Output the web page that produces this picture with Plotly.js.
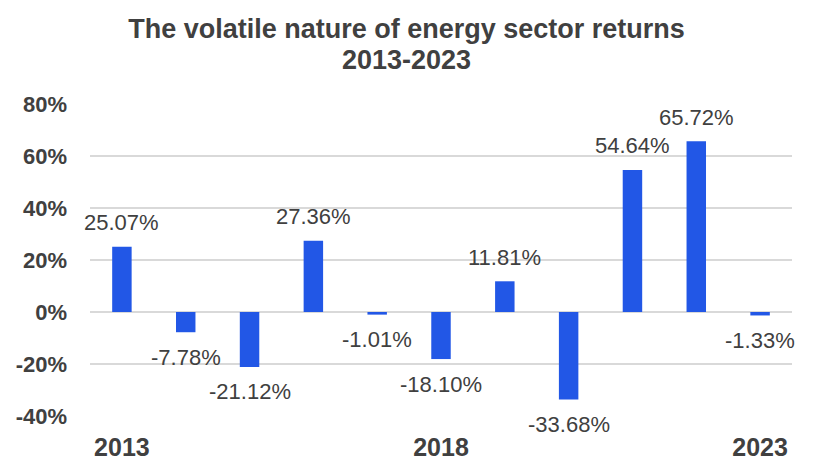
<!DOCTYPE html>
<html>
<head>
<meta charset="utf-8">
<script src="https://cdn.plot.ly/plotly-3.0.1.min.js"></script>
<style>html,body{margin:0;padding:0;background:#fff;}#chart{width:840px;height:472px;}</style>
</head>
<body>
<div id="chart"></div>
<script>
const years = ['2013','2014','2015','2016','2017','2018','2019','2020','2021','2022','2023'];
const returns = [25.07, -7.78, -21.12, 27.36, -1.01, -18.10, 11.81, -33.68, 54.64, 65.72, -1.33];
const xTickVals = ['2013','2018','2023'];
const yTickVals = [-40, -20, 0, 20, 40, 60, 80];
const yTickText = ['-40%','-20%','0%','20%','40%','60%','80%'];
const titleLine1 = 'The volatile nature of energy sector returns';
const titleLine2 = '2013-2023';

const textColor = '#404040';
const fam = 'Liberation Sans, Arial, sans-serif';
const trace = {
  type: 'bar',
  x: years,
  y: returns,
  marker: {color: '#2257E6'},
  hoverinfo: 'none'
};
// data labels: positioned at each category's index on the category axis
const labelAnns = years.map((yr, i) => ({
  x: i, y: returns[i], xref: 'x', yref: 'y',
  text: returns[i].toFixed(2) + '%',
  showarrow: false,
  xanchor: 'center', yanchor: 'middle',
  yshift: returns[i] >= 0 ? 24 : -25,
  font: {family: fam, size: 22, color: textColor}
}));
const layout = {
  width: 840, height: 472,
  margin: {l: 90, r: 48, t: 104, b: 56},
  paper_bgcolor: '#fff', plot_bgcolor: '#fff',
  bargap: 0.695,
  showlegend: false,
  title: {
    text: titleLine1,
    x: 406.5 / 840, xanchor: 'center',
    y: 1 - 29/472, yref: 'container', yanchor: 'middle',
    font: {family: fam, size: 27, color: textColor, weight: 'bold'}
  },
  annotations: [{
    text: titleLine2, xref: 'paper', yref: 'paper',
    x: (406.5 - 90) / 702, xanchor: 'center', y: (416 - 60) / 312, yanchor: 'middle',
    showarrow: false,
    font: {family: fam, size: 27, color: textColor, weight: 'bold'}
  }].concat(labelAnns),
  xaxis: {
    type: 'category',
    categoryorder: 'array', categoryarray: years,
    range: [-0.5, years.length - 0.5],
    tickmode: 'array', tickvals: xTickVals, ticktext: xTickVals,
    ticks: '', showgrid: false, showline: false, zeroline: false,
    ticklabelstandoff: 14,
    tickfont: {family: fam, size: 25, color: textColor, weight: 'bold'}
  },
  yaxis: {
    range: [-40, 80],
    tickmode: 'array', tickvals: yTickVals, ticktext: yTickText,
    ticks: '', showgrid: true, gridcolor: '#d9d9d9', gridwidth: 1.5,
    zeroline: false, showline: false,
    ticklabelstandoff: 22,
    tickfont: {family: fam, size: 22, color: textColor, weight: 'bold'}
  }
};
Plotly.newPlot('chart', [trace], layout, {displayModeBar: false, staticPlot: true});
</script>
</body>
</html>
